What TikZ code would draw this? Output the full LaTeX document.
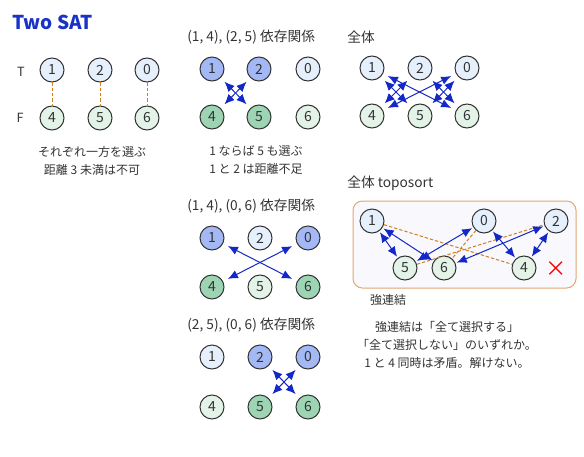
\documentclass[tikz,border=0pt]{standalone}
\usepackage{fontspec}
\setmainfont{Noto Sans CJK JP}
\usetikzlibrary{arrows.meta}

\definecolor{txtc}{HTML}{333333}
\definecolor{lblue}{HTML}{E6F0FC}
\definecolor{lgreen}{HTML}{E3F3E8}
\definecolor{sblue}{HTML}{A3B8F5}
\definecolor{sgreen}{HTML}{9CD4B4}
\definecolor{arrowc}{HTML}{1428C8}
\definecolor{pairc}{HTML}{D08020}
\definecolor{boxc}{HTML}{E2A86E}
\definecolor{boxfill}{HTML}{F8F8FD}
\definecolor{titlec}{HTML}{1A32C8}

\begin{document}
\begin{tikzpicture}[x=0.75pt, y=-0.75pt,
	num/.style={circle, draw=txtc, line width=0.75pt, minimum size=18pt, inner sep=0pt, text=txtc, font=\fontsize{10.5}{10.5}\selectfont},
	tn/.style={num, fill=lblue},
	fn/.style={num, fill=lgreen},
	tsel/.style={num, fill=sblue},
	fsel/.style={num, fill=sgreen},
	lbl/.style={text=txtc, font=\fontsize{9}{13.5}\selectfont, inner sep=0pt},
	head/.style={lbl, anchor=west, font=\fontsize{10.3}{10.3}\selectfont},
	dep/.style={draw=arrowc, line width=0.75pt, {Latex[length=7.5pt,width=6.5pt]}-{Latex[length=7.5pt,width=6.5pt]}, shorten <=4pt, shorten >=4pt},
	pair/.style={draw=pairc, dashed, dash pattern=on 2.5pt off 1.5pt, line width=0.75pt}]
	\useasboundingbox (0,0) rectangle (584,456);

	% Two SAT
	\node [anchor=west, inner sep=0pt, text=titlec, font=\fontsize{14.3}{14.3}\selectfont\bfseries] (title) at (12,22) {Two SAT};
	\node [lbl, font=\fontsize{9.5}{9.5}\selectfont] (T) at (21,72) {T};
	\node [lbl, font=\fontsize{9.5}{9.5}\selectfont] (F) at (20,118) {F};
	\node [tn] (a1) at (52,70) {1};
	\node [tn] (a2) at (100,70) {2};
	\node [tn] (a0) at (147,70) {0};
	\node [fn] (a4) at (52,118) {4};
	\node [fn] (a5) at (100,118) {5};
	\node [fn] (a6) at (147,118) {6};
	\draw [pair] (a1) -- (a4);
	\draw [pair] (a2) -- (a5);
	\draw [pair] (a0) -- (a6);
	\node [lbl, align=center] (anote) at (92,161) {それぞれ一方を選ぶ\\距離 3 未満は不可};

	% (1,4), (2,5)
	\node [head] (btitle) at (187,37) {(1, 4), (2, 5) 依存関係};
	\node [tsel] (b1) at (212,69) {1};
	\node [tsel] (b2) at (259,69) {2};
	\node [tn] (b0) at (308,69) {0};
	\node [fsel] (b4) at (212,117) {4};
	\node [fsel] (b5) at (259,117) {5};
	\node [fn] (b6) at (308,117) {6};
	\draw [dep] (b1) -- (b5);
	\draw [dep] (b4) -- (b2);
	\node [lbl, align=center] (bnote) at (256,160) {1 ならば 5 も選ぶ\\1 と 2 は距離不足};

	% all edges
	\node [head] (ctitle) at (347,37) {全体};
	\node [tn] (c1) at (372,68) {1};
	\node [tn] (c2) at (420,68) {2};
	\node [tn] (c0) at (467,68) {0};
	\node [fn] (c4) at (372,116) {4};
	\node [fn] (c5) at (420,116) {5};
	\node [fn] (c6) at (467,116) {6};
	\draw [dep] (c1) -- (c5);
	\draw [dep] (c4) -- (c2);
	\draw [dep] (c2) -- (c6);
	\draw [dep] (c5) -- (c0);
	\draw [dep] (c1) -- (c6);
	\draw [dep] (c4) -- (c0);

	% (1,4), (0,6)
	\node [head] (dtitle) at (187,206) {(1, 4), (0, 6) 依存関係};
	\node [tsel] (d1) at (212,238) {1};
	\node [tn] (d2) at (260,238) {2};
	\node [tsel] (d0) at (308,238) {0};
	\node [fsel] (d4) at (212,287) {4};
	\node [fn] (d5) at (260,287) {5};
	\node [fsel] (d6) at (308,287) {6};
	\draw [dep] (d1) -- (d6);
	\draw [dep] (d4) -- (d0);

	% (2,5), (0,6)
	\node [head] (etitle) at (187,325) {(2, 5), (0, 6) 依存関係};
	\node [tn] (e1) at (212,357) {1};
	\node [tsel] (e2) at (260,357) {2};
	\node [tsel] (e0) at (308,357) {0};
	\node [fn] (e4) at (212,407) {4};
	\node [fsel] (e5) at (260,407) {5};
	\node [fsel] (e6) at (308,407) {6};
	\draw [dep] (e2) -- (e6);
	\draw [dep] (e5) -- (e0);

	% toposort
	\node [head] (ftitle) at (347,183) {全体 toposort};
	\draw [draw=boxc, fill=boxfill, line width=0.75pt, rounded corners=7pt] (353,201) rectangle (576,288);
	\node [tn] (f1) at (372,221) {1};
	\node [tn] (f0) at (484,221) {0};
	\node [tn] (f2) at (556,221) {2};
	\node [fn] (f5) at (405,268) {5};
	\node [fn] (f6) at (444,268) {6};
	\node [fn] (f4) at (524,268) {4};
	\node [text=red, inner sep=0pt, font=\fontsize{16}{16}\selectfont] (fx) at (556,269) {×};
	\draw [pair] (f1) -- (f4);
	\draw [pair] (f0) -- (f6);
	\draw [pair] (f5) -- (f2);
	\draw [dep, shorten <=1pt, shorten >=1pt] (f1) -- (f5);
	\draw [dep, shorten <=1pt, shorten >=1pt] (f1) -- (f6);
	\draw [dep, shorten <=1pt, shorten >=1pt] (f0) -- (f5);
	\draw [dep, shorten <=1pt, shorten >=1pt] (f0) -- (f4);
	\draw [dep, shorten <=1pt, shorten >=1pt] (f2) -- (f6);
	\draw [dep, shorten <=1pt, shorten >=1pt] (f2) -- (f4);
	\node [lbl] (scc) at (388,300) {強連結};
	\node [lbl, align=center] (fnote) at (447,345) {強連結は「全て選択する」\\「全て選択しない」のいずれか。\\1 と 4 同時は矛盾。解けない。};
\end{tikzpicture}
\end{document}
